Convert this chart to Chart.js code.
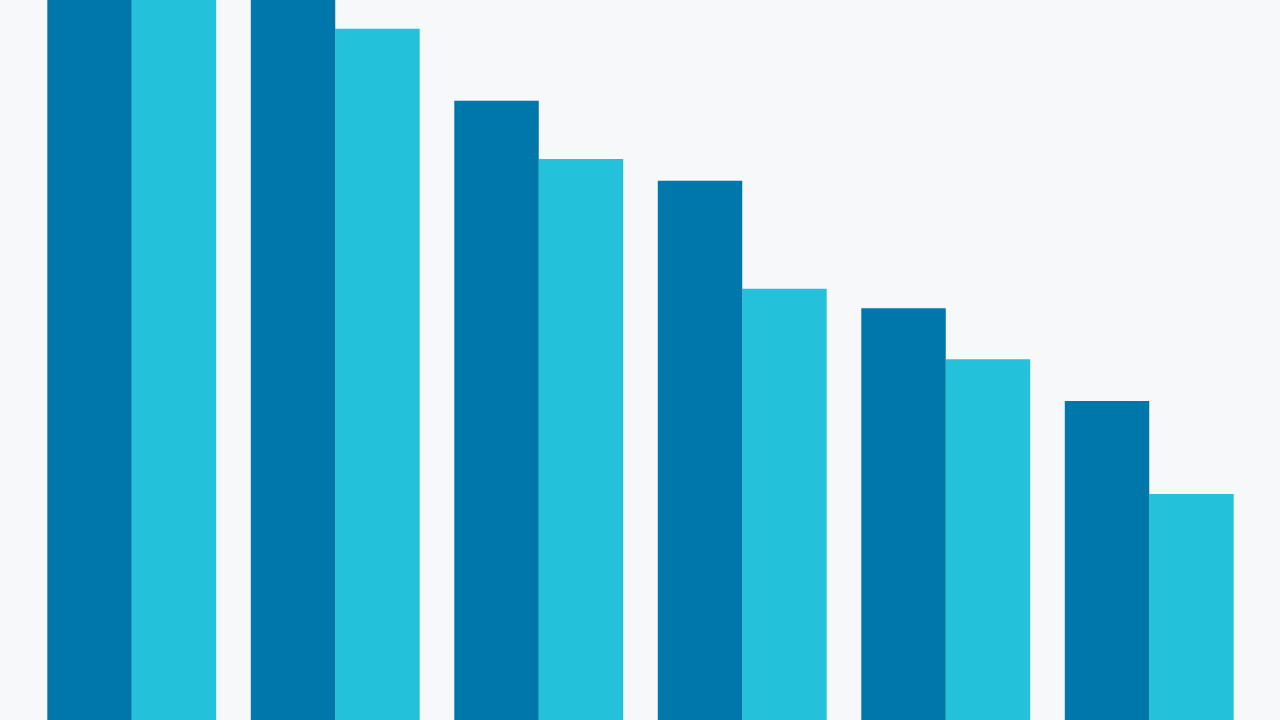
<!DOCTYPE html>
<html>
<head>
<meta charset="utf-8">
<script src="https://cdn.jsdelivr.net/npm/chart.js@4"></script>
<style>
  html, body { margin: 0; padding: 0; background: #f6f8fa; }
  #wrap { width: 1280px; height: 720px; }
</style>
</head>
<body>
<div id="wrap"><canvas id="barChart"></canvas></div>
<script>
const categories = ['1', '2', '3', '4', '5', '6'];
const seriesA = [115, 108, 86, 74.9, 57.2, 44.3];
const seriesB = [105, 96, 77.9, 59.9, 50.1, 31.4];

const ctx = document.getElementById('barChart').getContext('2d');
new Chart(ctx, {
    type: 'bar',
    data: {
        labels: categories,
        datasets: [
            { data: seriesA, backgroundColor: '#0077ab', borderWidth: 0 },
            { data: seriesB, backgroundColor: '#23c2da', borderWidth: 0 }
        ]
    },
    options: {
        responsive: true,
        maintainAspectRatio: false,
        animation: false,
        layout: { padding: { left: 30, right: 29, top: 0, bottom: 0 } },
        datasets: { bar: { categoryPercentage: 0.83, barPercentage: 1 } },
        scales: {
            x: { display: false },
            y: { display: false, min: 0, max: 100 }
        },
        plugins: { legend: { display: false }, tooltip: { enabled: false } }
    }
});
</script>
</body>
</html>
